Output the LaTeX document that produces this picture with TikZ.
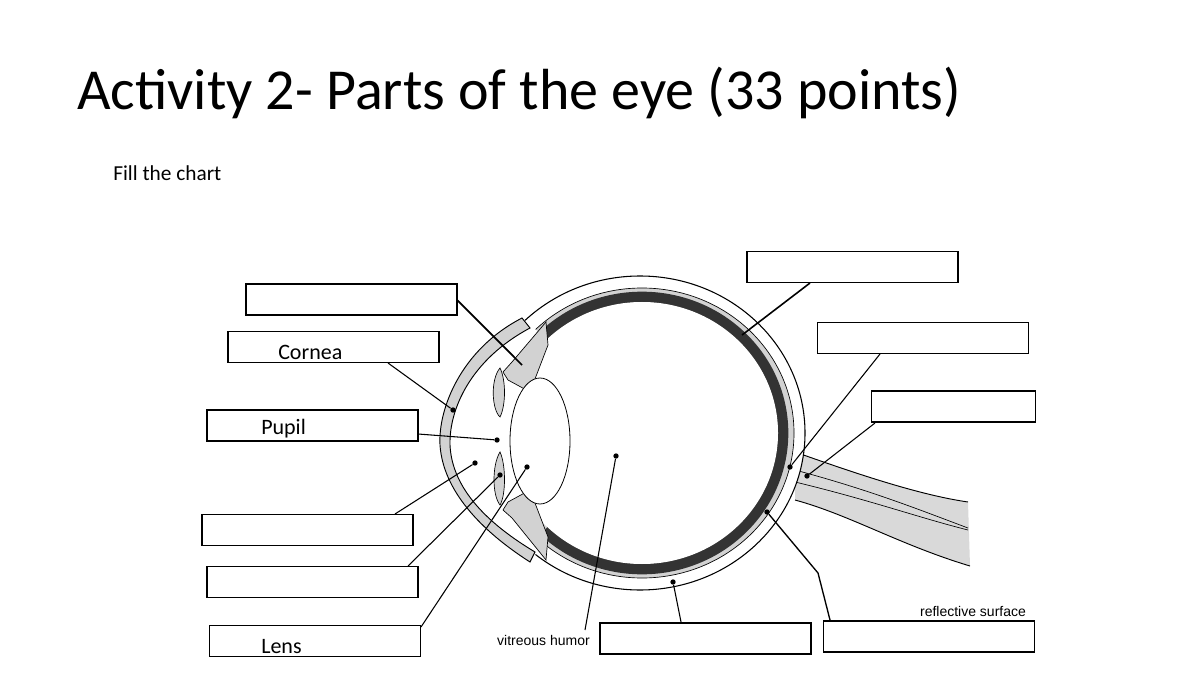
\documentclass[tikz,border=0pt]{standalone}
\usepackage{fontspec}
\setmainfont{Carlito}
\newfontfamily\arialf{Liberation Sans}
\begin{document}
\begin{tikzpicture}[x=0.75pt,y=-0.75pt,
  lbox/.style={draw,line width=1.2pt,minimum width=158pt,minimum height=23pt,inner sep=0pt},
  lead/.style={line width=0.8pt},
  dotc/.style={circle,fill=black,inner sep=0pt,minimum size=4pt},
  lab/.style={font=\fontsize{16.5}{18}\selectfont,anchor=west,inner sep=0pt}]
\useasboundingbox (0,0) rectangle (1188,691);
\node[anchor=base west,font=\fontsize{43.5}{46}\selectfont,inner sep=0pt] (title) at (77,110) {Activity 2- Parts of the eye (33 points)};
\node[anchor=base west,font=\fontsize{16}{18}\selectfont,inner sep=0pt] (fill) at (113,181) {Fill the chart};
% optic nerve
\fill[gray!30] (795,452) .. controls (860,475) and (920,495) .. (968,502) -- (970,566) .. controls (900,545) and (850,515) .. (795,500) -- cycle;
\draw[line width=0.7pt] (795,452) .. controls (860,475) and (920,495) .. (968,502);
\draw[line width=0.7pt] (795,500) .. controls (850,515) and (900,545) .. (970,566);
\draw[line width=0.5pt] (795,470) .. controls (870,490) and (920,510) .. (968,528);
\draw[line width=0.5pt] (795,482) .. controls (870,500) and (920,518) .. (968,530);
% sclera
\draw[fill=white,line width=0.8pt] (640,433) ellipse[x radius=165,y radius=157];
% choroid
\draw[fill=gray!35,line width=0.5pt] (642,433) ellipse[x radius=152,y radius=145];
% retina
\draw[line width=8pt,black!80] (642,433) ++(134:141 and 136) arc[start angle=134,end angle=-134,x radius=141,y radius=136];
\fill[white] (642,433) ellipse[x radius=136,y radius=131];
% cornea region
\fill[white] (522,318) .. controls (460,350) and (438,410) .. (440,445) .. controls (443,490) and (480,530) .. (530,562) -- (542,545) -- (542,335) -- cycle;
\draw[fill=gray!35,line width=0.7pt] (522,318) .. controls (460,350) and (438,410) .. (440,445) .. controls (443,490) and (480,530) .. (530,562)
 -- (535,552) .. controls (490,525) and (452,490) .. (450,445) .. controls (449,410) and (470,360) .. (530,328) -- cycle;
% ciliary body
\draw[fill=gray!35,line width=0.5pt] (546,322) -- (512,362) -- (503,372) -- (508,380) -- (530,392) -- (548,345) -- cycle;
\draw[fill=gray!35,line width=0.5pt] (546,560) -- (512,518) -- (503,510) -- (508,502) -- (530,490) -- (548,537) -- cycle;
% iris
\draw[fill=gray!35,line width=0.5pt] (500,368) .. controls (490,380) and (492,410) .. (500,417) .. controls (506,405) and (506,380) .. (500,368) -- cycle;
\draw[fill=gray!35,line width=0.5pt] (500,452) .. controls (492,465) and (492,495) .. (500,505) .. controls (506,495) and (506,465) .. (500,452) -- cycle;
% lens
\draw[fill=white,line width=0.6pt] (540,441) ellipse[x radius=30,y radius=63];
% boxes
\node[lbox] (b1) at (351.5,299.5) {};
\node[lbox] (b2) at (333.5,347) {};
\node[lab,anchor=base west] at (278,359) {Cornea};
\node[lbox] (b3) at (312.5,425.5) {};
\node[lab,anchor=base west] at (261,434) {Pupil};
\node[lbox] (b4) at (307.5,530) {};
\node[lbox] (b5) at (312.5,582) {};
\node[lbox] (b6) at (315,641) {};
\node[lab,anchor=base west] at (261,653) {Lens};
\node[lbox] (b8) at (705.5,638.5) {};
\node[lbox] (b9) at (929,636.5) {};
\node[lbox] (b10) at (852.5,267) {};
\node[lbox] (b11) at (923,338) {};
\node[lbox,minimum width=123pt] (b12) at (953.5,406.5) {};
\node[font=\arialf\fontsize{10.5}{12}\selectfont,anchor=east,inner sep=0pt] (vh) at (590,640) {vitreous humor};
\node[font=\arialf\fontsize{10.5}{12}\selectfont,inner sep=0pt] (rs) at (973,611) {reflective surface};
% dots
\node[dotc] (d2) at (453,410) {};
\node[dotc] (d3) at (497,440) {};
\node[dotc] (d4) at (475,463) {};
\node[dotc] (d5) at (500,475) {};
\node[dotc] (d6) at (527,467) {};
\node[dotc] (d7) at (616,456) {};
\node[dotc] (d8) at (673,582) {};
\node[dotc] (d9) at (767,512) {};
\node[dotc] (d11) at (790,467) {};
\node[dotc] (d12) at (807,476) {};
\coordinate (d1) at (522,365);
\coordinate (d10) at (742,335);
\coordinate (k9) at (818,573);
% leaders
\draw[line width=1.3pt] (b1.east) ++(0,1) -- (d1);
\draw[lead] (388,363) -- (d2);
\draw[lead] (418,434) -- (d3);
\draw[lead] (395,514) -- (d4);
\draw[lead] (408,566) -- (d5);
\draw[lead] (421,627) -- (d6);
\draw[lead] (585,630) -- (d7);
\draw[lead] (681,622) -- (d8);
\draw[line width=1pt] (830,620) -- (k9) -- (d9);
\draw[line width=1.2pt] (810,283) -- (d10);
\draw[lead] (880,354) -- (d11);
\draw[lead] (875,423) -- (d12);
\end{tikzpicture}
\end{document}
